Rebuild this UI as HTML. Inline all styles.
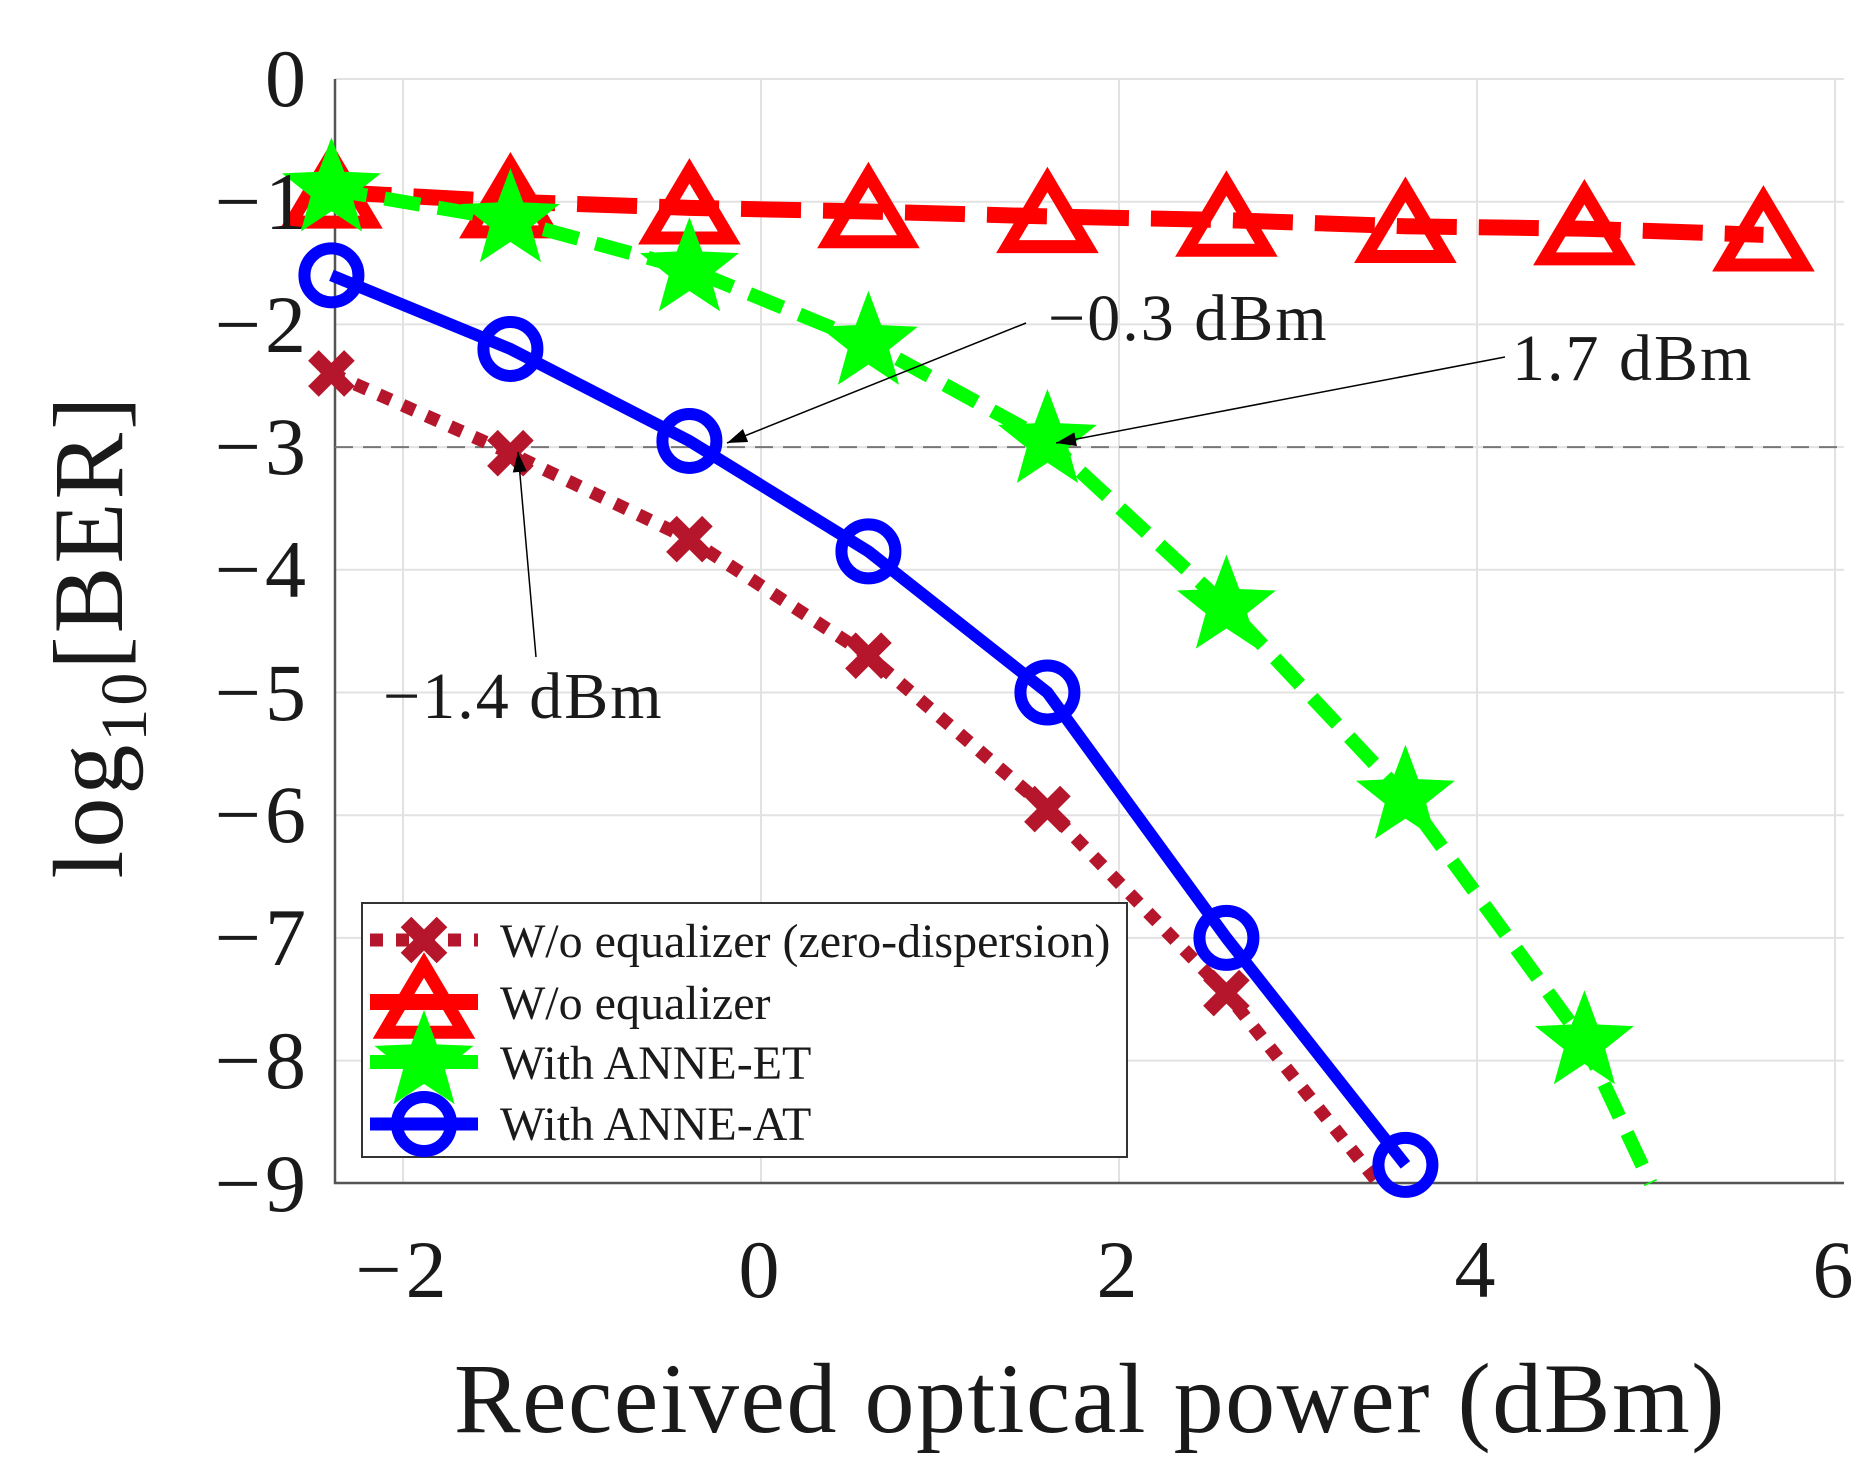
<!DOCTYPE html>
<html><head><meta charset="utf-8"><style>
html,body{margin:0;padding:0;background:#fff;}
svg{display:block;}
text{font-family:"Liberation Serif",serif;fill:#1a1a1a;}
</style></head><body>
<svg id="s" width="1871" height="1462" viewBox="0 0 1871 1462" xmlns="http://www.w3.org/2000/svg">
<g id="grid"></g>
<g id="data"></g>
<g font-size="82" text-anchor="end" letter-spacing="4">
<text x="310" y="106">0</text>
<text x="310" y="229">−1</text>
<text x="310" y="352">−2</text>
<text x="310" y="474">−3</text>
<text x="310" y="597">−4</text>
<text x="310" y="720">−5</text>
<text x="310" y="842">−6</text>
<text x="310" y="965">−7</text>
<text x="310" y="1088">−8</text>
<text x="310" y="1211">−9</text>
</g>
<g font-size="82" text-anchor="middle" letter-spacing="4">
<text x="403" y="1297">−2</text>
<text x="761" y="1297">0</text>
<text x="1119" y="1297">2</text>
<text x="1477" y="1297">4</text>
<text x="1835" y="1297">6</text>
</g>
<text x="1090" y="1432" font-size="100" text-anchor="middle" letter-spacing="1.5">Received optical power (dBm)</text>
<text transform="translate(122,636) rotate(-90)" font-size="100" text-anchor="middle" letter-spacing="3">log<tspan font-size="66" dy="24">10</tspan><tspan dy="-24">[BER]</tspan></text>
<g font-size="66" letter-spacing="2">
<text x="1048" y="340">−0.3 dBm</text>
<text x="1512" y="380">1.7 dBm</text>
<text x="383" y="718">−1.4 dBm</text>
</g>
<g font-size="48">
<text x="500" y="957">W/o equalizer (zero-dispersion)</text>
<text x="500" y="1019">W/o equalizer</text>
<text x="500" y="1079">With ANNE-ET</text>
<text x="500" y="1140">With ANNE-AT</text>
</g>
</svg>
<script>
const NS="http://www.w3.org/2000/svg";
const X=x=>335+(x+2.38)*179, Y=y=>79+(-y)*122.7;
const g=document.getElementById('grid'), d=document.getElementById('data');
function el(p,t,a){const e=document.createElementNS(NS,t);for(const k in a)e.setAttribute(k,a[k]);p.appendChild(e);return e;}
for(let v=-2;v<=6;v+=2)el(g,'line',{x1:X(v),x2:X(v),y1:79,y2:1183,stroke:'#e2e2e2','stroke-width':2});
for(let v=0;v>=-9;v--)el(g,'line',{x1:335,x2:1844,y1:Y(v),y2:Y(v),stroke:'#e2e2e2','stroke-width':2});
el(g,'path',{d:'M335,79 L335,1183 L1844,1183',fill:'none',stroke:'#555','stroke-width':2.5});
el(g,'line',{x1:335,x2:1844,y1:Y(-3),y2:Y(-3),stroke:'#777','stroke-width':2,'stroke-dasharray':'18,10'});
const xs=[-2.4,-1.4,-0.4,0.6,1.6,2.6,3.6,4.6,5.6];
const red=[-0.92,-1.0,-1.05,-1.08,-1.12,-1.15,-1.2,-1.22,-1.27];
const grn=[-0.9,-1.15,-1.55,-2.15,-2.95,-4.3,-5.85,-7.85];
const blu=[-1.6,-2.2,-2.95,-3.85,-5.0,-7.0,-8.85];
const dr=[-2.4,-3.05,-3.75,-4.7,-5.95,-7.45];
function line(pts,col,w,dash){el(d,'polyline',{points:pts.map(p=>p.join(',')).join(' '),fill:'none',stroke:col,'stroke-width':w,'stroke-dasharray':dash||'none','stroke-linejoin':'round'});}
function tri(cx,cy,s,col){el(d,'path',{d:`M${cx},${cy-s} L${cx+s*0.95},${cy+s*0.6} L${cx-s*0.95},${cy+s*0.6}Z`,fill:'none',stroke:col,'stroke-width':13,'stroke-linejoin':'miter'});}
function star(cx,cy,r,col){let p='';for(let i=0;i<10;i++){const a=-Math.PI/2+i*Math.PI/5,rr=i%2?r*0.42:r;p+=(i?'L':'M')+(cx+rr*Math.cos(a))+','+(cy+rr*Math.sin(a));}el(d,'path',{d:p+'Z',fill:col});}
function circ(cx,cy,col){el(d,'circle',{cx,cy,r:27,fill:'none',stroke:col,'stroke-width':12});}
function cross(cx,cy,col){el(d,'path',{d:`M${cx-18},${cy-18}L${cx+18},${cy+18}M${cx+18},${cy-18}L${cx-18},${cy+18}`,stroke:col,'stroke-width':15});}
const drp=dr.map((v,i)=>[X(xs[i]),Y(v)]);drp.push([X(3.45),Y(-9)]);
line(drp,'#b5162b',13,'13,13');drp.slice(0,6).forEach(p=>cross(p[0],p[1],'#b5162b'));
const rp=red.map((v,i)=>[X(xs[i]),Y(v)]);line(rp,'#ff0000',16,'60,22');rp.forEach(p=>tri(p[0],p[1]+5,42,'#ff0000'));
const gp=grn.map((v,i)=>[X(xs[i]),Y(v)]);gp.push([X(4.97),Y(-9)]);line(gp,'#00ff00',14,'36,18');gp.slice(0,8).forEach(p=>star(p[0],p[1],52,'#00ff00'));
const bp=blu.map((v,i)=>[X(xs[i]),Y(v)]);line(bp,'#0000ff',12);bp.forEach(p=>circ(p[0],p[1],'#0000ff'));
function arrow(x1,y1,x2,y2){el(d,'line',{x1,y1,x2,y2,stroke:'#000','stroke-width':1.5});const a=Math.atan2(y2-y1,x2-x1),L=20,W=7;
el(d,'path',{d:`M${x2},${y2}L${x2-L*Math.cos(a)+W*Math.sin(a)},${y2-L*Math.sin(a)-W*Math.cos(a)}L${x2-L*Math.cos(a)-W*Math.sin(a)},${y2-L*Math.sin(a)+W*Math.cos(a)}Z`,fill:'#000'});}
arrow(1026,323,727,443);arrow(1505,357,1056,443);arrow(536,657,518,452);
el(d,'rect',{x:362,y:903,width:765,height:254,fill:'#fff',stroke:'#333','stroke-width':2});
const ly=[940,1002,1062,1124];
el(d,'line',{x1:370,x2:478,y1:ly[0],y2:ly[0],stroke:'#b5162b','stroke-width':13,'stroke-dasharray':'13,13'});cross(424,ly[0],'#b5162b');
el(d,'line',{x1:370,x2:478,y1:ly[1],y2:ly[1],stroke:'#ff0000','stroke-width':16});tri(424,ly[1]+5,42,'#ff0000');
el(d,'line',{x1:370,x2:478,y1:ly[2],y2:ly[2],stroke:'#00ff00','stroke-width':14});star(424,ly[2],52,'#00ff00');
el(d,'line',{x1:370,x2:478,y1:ly[3],y2:ly[3],stroke:'#0000ff','stroke-width':13});circ(424,ly[3],'#0000ff');
</script>
</body></html>
